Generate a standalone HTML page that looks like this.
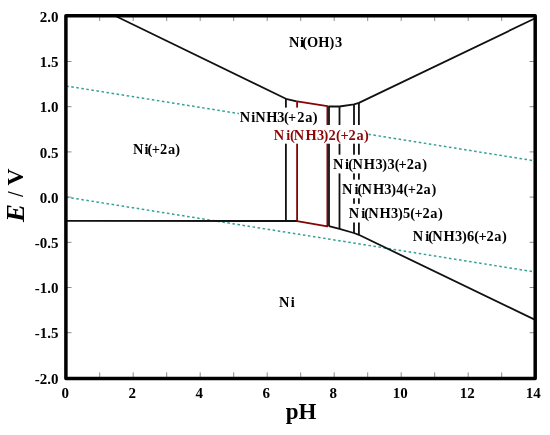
<!DOCTYPE html><html><head><meta charset="utf-8"><style>html,body{margin:0;padding:0;background:#fff;}svg{display:block;}text{font-family:"Liberation Serif",serif;font-weight:bold;}</style></head><body>
<svg width="550" height="435" viewBox="0 0 550 435">
<rect x="0" y="0" width="550" height="435" fill="#fff"/>
<path d="M99.70 372.40V378.4 M99.70 15.80V21.00 M133.20 372.40V378.4 M133.20 15.80V21.00 M166.70 372.40V378.4 M166.70 15.80V21.00 M200.20 372.40V378.4 M200.20 15.80V21.00 M233.70 372.40V378.4 M233.70 15.80V21.00 M267.20 372.40V378.4 M267.20 15.80V21.00 M300.70 372.40V378.4 M300.70 15.80V21.00 M334.20 372.40V378.4 M334.20 15.80V21.00 M367.70 372.40V378.4 M367.70 15.80V21.00 M401.20 372.40V378.4 M401.20 15.80V21.00 M434.70 372.40V378.4 M434.70 15.80V21.00 M468.20 372.40V378.4 M468.20 15.80V21.00 M501.70 372.40V378.4 M501.70 15.80V21.00 M65.90 332.70H71.50 M529.60 332.70H535.20 M65.90 287.50H71.50 M529.60 287.50H535.20 M65.90 242.30H71.50 M529.60 242.30H535.20 M65.90 197.10H71.50 M529.60 197.10H535.20 M65.90 151.90H71.50 M529.60 151.90H535.20 M65.90 106.70H71.50 M529.60 106.70H535.20 M65.90 61.50H71.50 M529.60 61.50H535.20" stroke="#8a8a8a" stroke-width="1" fill="none"/>
<path d="M66.20 86.00L535.20 160.92" stroke="#35a093" stroke-width="1.5" stroke-dasharray="2.55 2.55" fill="none"/>
<path d="M66.20 197.10L535.20 272.02" stroke="#35a093" stroke-width="1.5" stroke-dasharray="2.55 2.55" fill="none"/>
<path d="M116.5 16.5L285.9 98.8L296.6 101.4" stroke="#111" stroke-width="1.8" fill="none" stroke-linejoin="round"/>
<path d="M65.9 220.9L297.0 221.0" stroke="#111" stroke-width="1.8" fill="none" stroke-linejoin="round"/>
<path d="M285.9 98.8V220.9M339.5 106.5V228.9M354.0 104.3V233.0M358.9 102.9V234.8" stroke="#111" stroke-width="1.8" fill="none" stroke-linejoin="round"/>
<path d="M297.1 107.0V101.4L327.4 106.1V226.4L297.1 221.2V101.4" stroke="#850303" stroke-width="1.8" fill="none" stroke-linejoin="round"/>
<path d="M329.0 226.2V106.4L339.5 106.5L354.0 104.3L358.9 102.9L535.2 18.3" stroke="#111" stroke-width="1.8" fill="none" stroke-linejoin="round"/>
<path d="M329.0 226.2L339.5 228.9L353.9 233.0L358.8 234.8L535.2 319.9" stroke="#111" stroke-width="1.8" fill="none" stroke-linejoin="round"/>
<rect x="288.20" y="32.40" width="54.60" height="18.7" fill="#fff"/>
<rect x="238.90" y="107.60" width="78.50" height="18.7" fill="#fff"/>
<rect x="272.90" y="125.00" width="95.49" height="18.7" fill="#fff"/>
<rect x="132.20" y="139.20" width="48.50" height="18.7" fill="#fff"/>
<rect x="332.10" y="154.70" width="95.19" height="18.7" fill="#fff"/>
<rect x="341.30" y="179.60" width="95.09" height="18.7" fill="#fff"/>
<rect x="348.00" y="203.80" width="95.29" height="18.7" fill="#fff"/>
<rect x="412.00" y="226.20" width="94.09" height="18.7" fill="#fff"/>
<rect x="278.30" y="292.20" width="17.10" height="18.7" fill="#fff"/>
<text x="289.00" y="46.90" dx="0.00 0.60 -1.70 0.00 0.00 0.00 0.70" font-size="14.4" fill="#000">Ni(OH)3</text>
<text x="240.40" y="122.10" dx="-0.70 1.10 0.00 0.70 -0.30 -0.30 -0.90 1.00 0.80 0.30" font-size="14.4" fill="#000">NiNH3(+2a)</text>
<text x="274.60" y="139.50" dx="-0.90 2.20 -0.40 -0.90 1.40 0.30 -0.70 0.10 0.40 -0.50 0.00 0.60 0.30" font-size="14.4" fill="#8c0808">Ni(NH3)2(+2a)</text>
<text x="133.00" y="153.70" dx="0.00 1.00 -1.00 -0.50 0.20 0.80 0.00" font-size="14.4" fill="#000">Ni(+2a)</text>
<text x="333.30" y="169.20" dx="-0.40 1.80 -0.90 -0.40 0.80 0.40 -0.30 0.40 0.00 -1.10 0.10 0.40 0.80" font-size="14.4" fill="#000">Ni(NH3)3(+2a)</text>
<text x="342.50" y="194.10" dx="-0.40 2.00 -0.90 -0.90 1.00 0.10 -0.20 0.20 0.20 -0.70 0.00 0.50 0.60" font-size="14.4" fill="#000">Ni(NH3)4(+2a)</text>
<text x="349.00" y="218.30" dx="-0.20 2.00 -0.90 -0.90 1.00 0.10 -0.20 0.20 0.20 -0.70 0.00 0.50 0.60" font-size="14.4" fill="#000">Ni(NH3)5(+2a)</text>
<text x="414.20" y="240.70" dx="-1.40 2.00 -0.90 -0.90 1.00 0.10 -0.20 0.20 0.20 -0.70 0.00 0.50 0.60" font-size="14.4" fill="#000">Ni(NH3)6(+2a)</text>
<text x="279.10" y="306.70" dx="0.00 1.30" font-size="14.4" fill="#000">Ni</text>
<rect x="65.9" y="15.8" width="469.30" height="362.60" fill="none" stroke="#000" stroke-width="3.5" stroke-linejoin="round"/>
<text x="58.4" y="383.50" font-size="15" text-anchor="end">-2.0</text>
<text x="58.4" y="338.30" font-size="15" text-anchor="end">-1.5</text>
<text x="58.4" y="293.10" font-size="15" text-anchor="end">-1.0</text>
<text x="58.4" y="247.90" font-size="15" text-anchor="end">-0.5</text>
<text x="58.4" y="202.70" font-size="15" text-anchor="end">0.0</text>
<text x="58.4" y="157.50" font-size="15" text-anchor="end">0.5</text>
<text x="58.4" y="112.30" font-size="15" text-anchor="end">1.0</text>
<text x="58.4" y="67.10" font-size="15" text-anchor="end">1.5</text>
<text x="58.4" y="21.90" font-size="15" text-anchor="end">2.0</text>
<text x="65.20" y="398" font-size="15" text-anchor="middle">0</text>
<text x="132.20" y="398" font-size="15" text-anchor="middle">2</text>
<text x="199.20" y="398" font-size="15" text-anchor="middle">4</text>
<text x="266.20" y="398" font-size="15" text-anchor="middle">6</text>
<text x="333.20" y="398" font-size="15" text-anchor="middle">8</text>
<text x="400.20" y="398" font-size="15" text-anchor="middle">10</text>
<text x="467.20" y="398" font-size="15" text-anchor="middle">12</text>
<text x="533.20" y="398" font-size="15" text-anchor="middle">14</text>
<text x="285.8" y="419.2" font-size="23">pH</text>
<g transform="translate(23.3,220.8) rotate(-90)" font-size="23.6"><text transform="translate(-1.2,0.2) scale(1.12,1)" x="0" y="0" font-style="italic" font-size="24.2">E</text><text transform="translate(24.1,0) scale(0.8,1)" x="0" y="0">/</text><text x="35.4" y="0">V</text></g>
</svg></body></html>
